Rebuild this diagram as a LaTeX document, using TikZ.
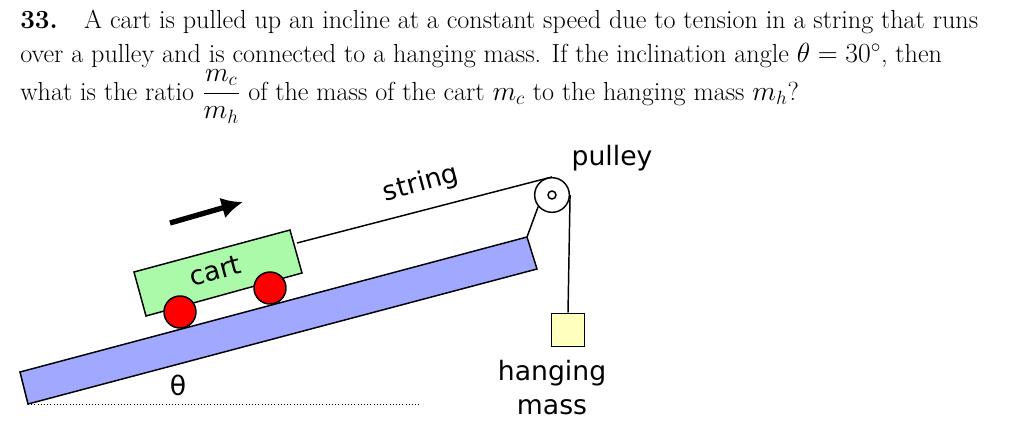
\documentclass[tikz,border=0pt]{standalone}
\usepackage{amsmath}
\usepackage{fontspec}
\usetikzlibrary{arrows.meta}
\newfontfamily\dv{DejaVu Sans}
\begin{document}
\begin{tikzpicture}[x=0.75pt,y=-0.75pt,
  lbl/.style={font=\dv\fontsize{20}{24}\selectfont, inner sep=0pt},
  ln/.style={line width=1.1pt}]
\useasboundingbox (0,0) rectangle (1024,432);
\node[anchor=north west, text width=737pt, align=justify, inner sep=0pt, font=\fontsize{19.6}{25.5}\selectfont] (q) at (20,10)
{\textbf{33.}\hspace{0.6em} A cart is pulled up an incline at a constant speed due to tension in a string that runs\\ over a pulley and is connected to a hanging mass. If the inclination angle $\theta=30^\circ$, then\\ what is the ratio $\dfrac{m_c}{m_h}$ of the mass of the cart $m_c$ to the hanging mass $m_h$?};
% incline
\draw[ln, fill={rgb,255:red,160;green,168;blue,255}] (20,372) coordinate (i1) -- (527,237) coordinate (itop) -- (537,269) -- (28,404) -- cycle;
\draw[dotted] (28,404) -- (420,404);
\node[lbl] (th) at (178,385) {θ};
% cart
\draw[ln, fill={rgb,255:red,170;green,250;blue,170}] (134,272) -- (290,230) coordinate (ctr) -- (302,273) -- (146,316) -- cycle;
\node[lbl, rotate=15] (cart) at (215,271) {cart};
\draw[ln, fill=red] (180,312) circle (16);
\draw[ln, fill=red] (270,288) circle (16);
% pulley
\node[circle, draw, line width=1.1pt, minimum size=26pt, inner sep=0pt, fill=white] (p) at (552,195) {};
\draw[ln] (552,195) circle (4);
\draw[ln] (297,243) -- (p.north);
\draw[ln] (p.-140) -- (itop);
\node[draw, line width=1.1pt, fill={rgb,255:red,255;green,255;blue,190}, minimum size=25pt, inner sep=0pt] (box) at (568,330) {};
\draw[ln] (p.east) -- (box.north);
\node[lbl] (pl) at (612,158) {pulley};
\node[lbl, rotate=15] (st) at (421,184) {string};
\node[lbl, align=center, font=\dv\fontsize{20}{25.5}\selectfont] (hm) at (552,388) {hanging\\mass};
\draw[line width=4pt, -{Latex[length=16pt,width=16pt]}] (170,223) -- (243,202);
\end{tikzpicture}
\end{document}
